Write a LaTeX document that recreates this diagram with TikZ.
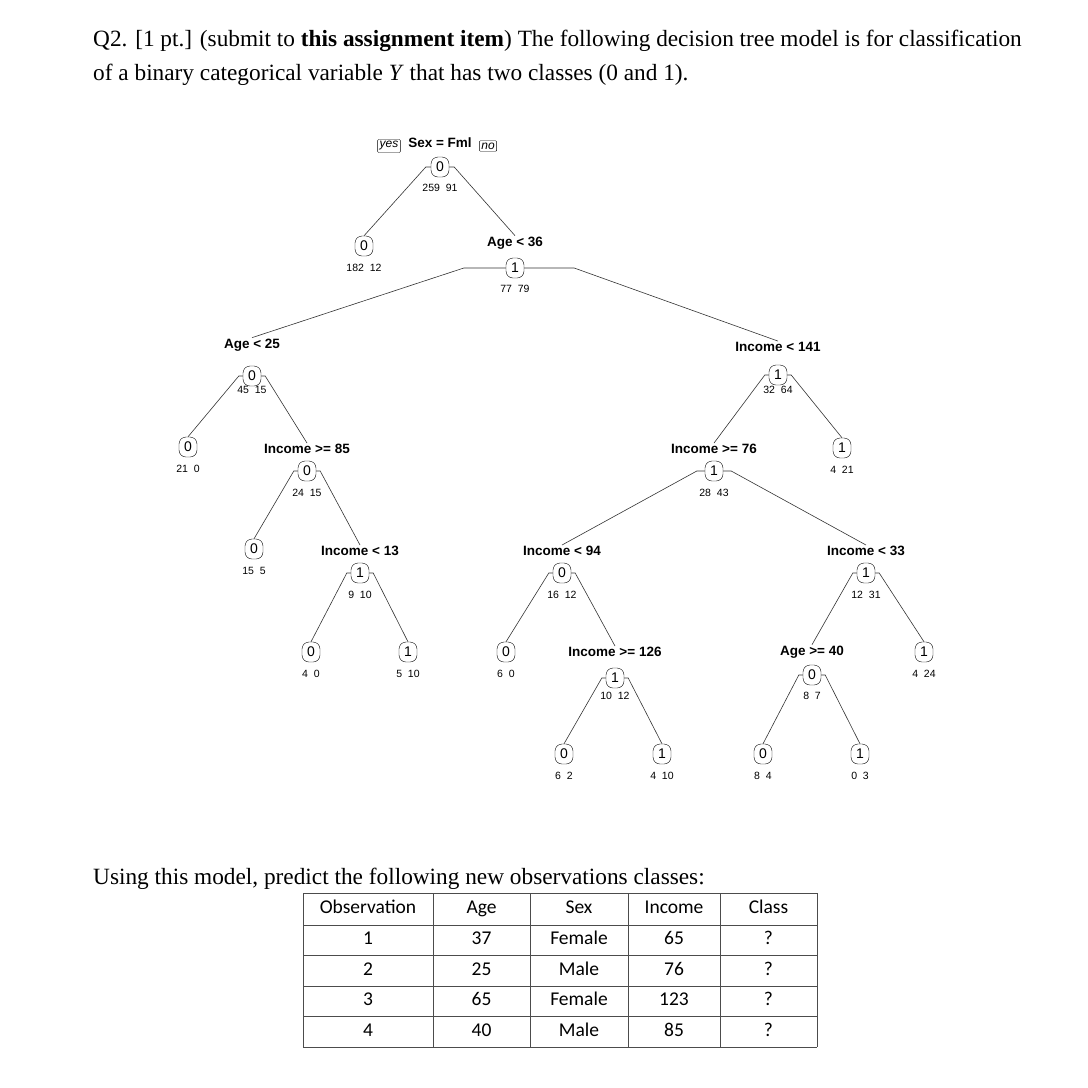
\documentclass[tikz,border=0pt]{standalone}
\usepackage{fontspec}
\setmainfont{Liberation Serif}
\newfontfamily\arialf{Liberation Sans}
\newfontfamily\calf{Carlito}
\begin{document}
\begin{tikzpicture}[x=1pt,y=-1pt,
  lab/.style={font=\arialf\bfseries\fontsize{13.5}{15}\selectfont,inner sep=1pt},
  cnt/.style={font=\arialf\fontsize{10.5}{12}\selectfont,inner sep=1pt},
  bx/.style={draw,rounded corners=7pt,font=\arialf\fontsize{14}{15}\selectfont,minimum width=18pt,minimum height=20pt,inner sep=0pt},
  yn/.style={draw,rounded corners=1pt,font=\arialf\itshape\fontsize{12}{13}\selectfont,inner sep=2pt},
  ln/.style={draw=black!80,line width=0.6pt},
  cell/.style={font=\calf\fontsize{19.5}{22}\selectfont,text height=13pt,text depth=4pt}]
\useasboundingbox (0,0) rectangle (1088,1088);
\node[anchor=base west,font=\fontsize{23.3}{26}\selectfont,inner sep=0] at (93,46) {Q2. [1 pt.] (submit to \textbf{this assignment item}) The following decision tree model is for classification};
\node[anchor=base west,font=\fontsize{23.3}{26}\selectfont,inner sep=0] at (93,80) {of a binary categorical variable \textit{Y} that has two classes (0 and 1).};
\node[anchor=base west,font=\fontsize{23.3}{26}\selectfont,inner sep=0] at (93,884) {Using this model, predict the following new observations classes:};
\newcommand{\spl}[8]{%
 \node[lab] (#1l) at (#2,#3) {#7};
 \node[bx,fill=white] (#1) at (#2,#4) {#6};
 \node[cnt] (#1c) at (#2,#5) {#8};}
\newcommand{\leaf}[5]{%
 \node[bx] (#1) at (#2,#3) {#4};
 \node[cnt] (#1c) at (#2,#3+22) {#5};}
\spl{r}{440}{143}{167}{188}{0}{Sex = Fml}{259\ \ 91}
\node[yn] (yes) at (389,146) {yes};
\node[yn] (no) at (488,146) {no};
\leaf{l1}{364}{246}{0}{182\ \ 12}
\spl{a36}{515}{243}{268}{289}{1}{Age < 36}{77\ \ 79}
\spl{a25}{252}{345}{376}{390}{0}{Age < 25}{45\ \ 15}
\leaf{l2}{188}{447}{0}{21\ \ 0}
\spl{i85}{307}{449}{471}{493}{0}{Income >= 85}{24\ \ 15}
\leaf{l3}{254}{549}{0}{15\ \ 5}
\spl{i13}{360}{551}{573}{595}{1}{Income < 13}{9\ \ 10}
\leaf{l4}{311}{652}{0}{4\ \ 0}
\leaf{l5}{408}{652}{1}{5\ \ 10}
\spl{i141}{778}{347}{375}{390}{1}{Income < 141}{32\ \ 64}
\spl{i76}{714}{449}{471}{493}{1}{Income >= 76}{28\ \ 43}
\leaf{l6}{842}{448}{1}{4\ \ 21}
\spl{i94}{562}{551}{573}{595}{0}{Income < 94}{16\ \ 12}
\leaf{l7}{506}{652}{0}{6\ \ 0}
\spl{i126}{615}{652}{678}{696}{1}{Income >= 126}{10\ \ 12}
\leaf{l8}{564}{754}{0}{6\ \ 2}
\leaf{l9}{662}{754}{1}{4\ \ 10}
\spl{i33}{866}{551}{573}{595}{1}{Income < 33}{12\ \ 31}
\spl{a40}{812}{652}{675}{696}{0}{Age >= 40}{8\ \ 7}
\leaf{l10}{924}{652}{1}{4\ \ 24}
\leaf{l11}{763}{754}{0}{8\ \ 4}
\leaf{l12}{860}{754}{1}{0\ \ 3}
\newcommand{\conL}[3]{\draw[ln] (#1.west) -- ++(-#3,0) -- (#2.north);}
\newcommand{\conR}[3]{\draw[ln] (#1.east) -- ++(#3,0) -- (#2.north);}
\conL{r}{l1}{5}
\conR{r}{a36l}{5}
\conL{a36}{a25l}{42}
\conR{a36}{i141l}{50}
\conL{a25}{l2}{4}
\conR{a25}{i85l}{4}
\conL{i85}{l3}{4}
\conR{i85}{i13l}{4}
\conL{i13}{l4}{4}
\conR{i13}{l5}{4}
\conL{i141}{i76l}{4}
\conR{i141}{l6}{4}
\conL{i76}{i94l}{8}
\conR{i76}{i33l}{8}
\conL{i94}{l7}{4}
\conR{i94}{i126l}{4}
\conL{i126}{l8}{4}
\conR{i126}{l9}{4}
\conL{i33}{a40l}{4}
\conR{i33}{l10}{4}
\conL{a40}{l11}{4}
\conR{a40}{l12}{4}
\foreach \y in {893,925,955,986,1016,1047} \draw[black!70,line width=1pt] (303,\y) -- (817,\y);
\foreach \x in {303,433,530,628,720,817} \draw[black!70,line width=1pt] (\x,893) -- (\x,1047);
\foreach \t/\cx in {Observation/368,Age/481.5,Sex/579,Income/674,Class/768.5}
  \node[cell] at (\cx,909) {\t};
\foreach \a/\b/\c/\d [count=\r] in {1/37/Female/65,2/25/Male/76,3/65/Female/123,4/40/Male/85} {
  \pgfmathsetmacro{\cy}{909+30.8*\r}
  \node[cell] at (368,\cy) {\a};
  \node[cell] at (481.5,\cy) {\b};
  \node[cell] at (579,\cy) {\c};
  \node[cell] at (674,\cy) {\d};
  \node[cell] at (768.5,\cy) {?};}
\end{tikzpicture}
\end{document}
